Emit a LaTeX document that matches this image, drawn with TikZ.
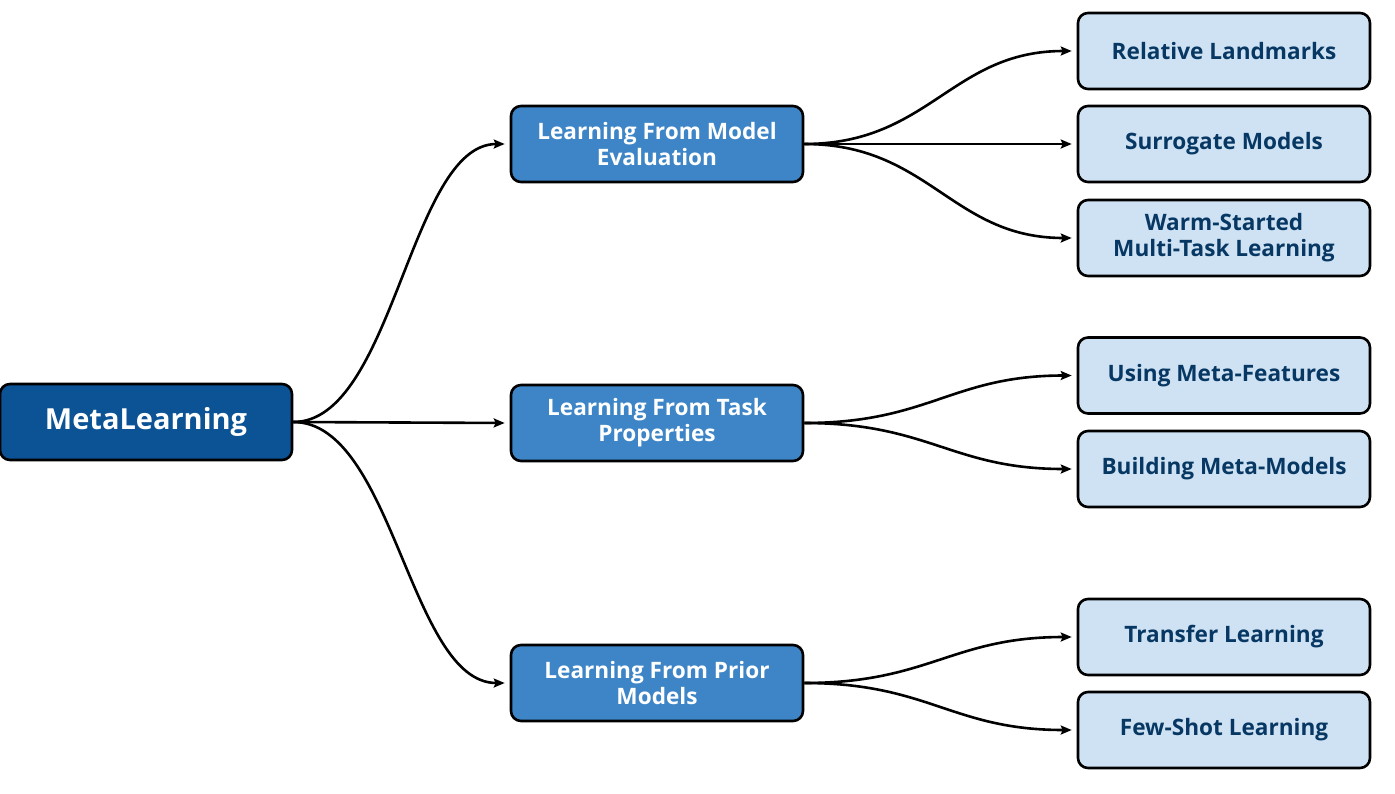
\documentclass[tikz,border=0pt]{standalone}
\usepackage{fontspec}
\setmainfont{Open Sans}
\usetikzlibrary{arrows.meta}
\definecolor{rootc}{HTML}{0B5394}
\definecolor{midc}{HTML}{3D85C6}
\definecolor{leafc}{HTML}{CFE2F3}
\definecolor{leaftext}{HTML}{073763}
\tikzset{
  box/.style={draw=black, line width=2.6pt, rounded corners=10pt, minimum width=292pt, minimum height=76pt, align=center, inner sep=0pt, font=\fontsize{22.6}{26}\selectfont\bfseries},
  rootbox/.style={box, fill=rootc, text=white, font=\fontsize{29}{34}\selectfont\bfseries},
  midbox/.style={box, fill=midc, text=white},
  leafbox/.style={box, fill=leafc, text=leaftext},
  conn/.style={line width=2.6pt, -{Stealth[length=11pt,width=9pt,inset=2pt]}, shorten >=5pt}
}
\begin{document}
\begin{tikzpicture}[x=1pt,y=-1pt]
\useasboundingbox (0,0) rectangle (1395,793);
\node[rootbox] (root) at (146,422) {MetaLearning};
\node[midbox] (m1) at (657,144) {Learning From Model\\Evaluation};
\node[midbox] (m2) at (657,423) {Learning From Task\\Properties};
\node[midbox] (m3) at (657,683) {Learning From Prior\\Models};
\node[leafbox] (l1) at (1224,51) {Relative Landmarks};
\node[leafbox] (l2) at (1224,144) {Surrogate Models};
\node[leafbox] (l3) at (1224,238) {Warm-Started\\Multi-Task Learning};
\node[leafbox] (l4) at (1224,375.5) {Using Meta-Features};
\node[leafbox] (l5) at (1224,469) {Building Meta-Models};
\node[leafbox] (l6) at (1224,637) {Transfer Learning};
\node[leafbox] (l7) at (1224,730) {Few-Shot Learning};

\draw[conn] (root.east) .. controls +(100,0) and +(-100,0) .. (m1.west);
\draw[conn] (root.east) -- (m2.west);
\draw[conn] (root.east) .. controls +(100,0) and +(-100,0) .. (m3.west);

\draw[conn] (m1.east) .. controls +(125,0) and +(-125,0) .. (l1.west);
\draw[conn] (m1.east) -- (l2.west);
\draw[conn] (m1.east) .. controls +(125,0) and +(-125,0) .. (l3.west);
\draw[conn] (m2.east) .. controls +(125,0) and +(-125,0) .. (l4.west);
\draw[conn] (m2.east) .. controls +(125,0) and +(-125,0) .. (l5.west);
\draw[conn] (m3.east) .. controls +(125,0) and +(-125,0) .. (l6.west);
\draw[conn] (m3.east) .. controls +(125,0) and +(-125,0) .. (l7.west);
\end{tikzpicture}
\end{document}
